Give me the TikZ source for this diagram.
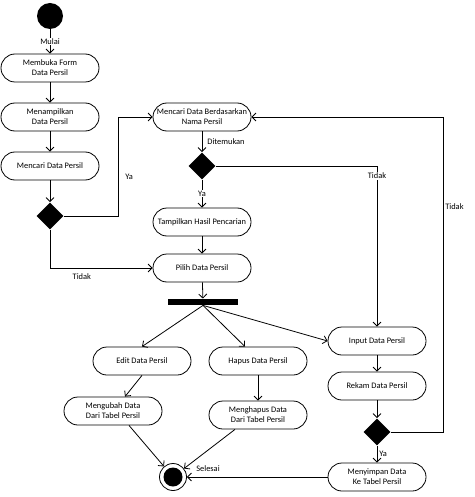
\documentclass[tikz,border=0pt]{standalone}
\usepackage{fontspec}
\setmainfont{Carlito}
\usetikzlibrary{arrows.meta,graphs,shapes.geometric}

\begin{document}
\begin{tikzpicture}[x=1pt,y=-1pt,line width=0.8pt,
    >={Straight Barb[length=4pt,width=8pt]}]
  \tikzset{act/.append style={draw, rounded corners=14pt, minimum width=98pt,
      minimum height=28pt, align=center, inner sep=1pt,
      font=\fontsize{8.4}{10}\selectfont},
    dec/.append style={diamond, fill=black, inner sep=0, minimum width=27pt,
      minimum height=27pt},
    lbl/.append style={font=\fontsize{8.4}{10}\selectfont, inner sep=1pt}}
  \useasboundingbox (0,0) rectangle (474,497);

  \node[circle, fill=black, minimum size=26pt, inner sep=0] (start) at (50,16) {};
  \node[act] (1) at (50,68) {Membuka Form\\Data Persil};
  \node[act] (2) at (50,117) {Menampilkan\\Data Persil};
  \node[act] (3) at (50,166) {Mencari Data Persil};
  \node[dec] (d1) at (50,216) {};

  \node[act] (4) at (202,117) {Mencari Data Berdasarkan\\Nama Persil};
  \node[dec] (d2) at (202,166) {};
  \node[act] (5) at (202,222) {Tampilkan Hasil Pencarian};
  \node[act] (6) at (202,268) {Pilih Data Persil};
  \node[fill=black, minimum width=70pt, minimum height=6pt, inner sep=0] (fork) at (203,302) {};

  \node[act] (7) at (142,361) {Edit Data Persil};
  \node[act] (8) at (258,361) {Hapus Data Persil};
  \node[act] (9) at (377,341) {Input Data Persil};
  \node[act] (10) at (377,386) {Rekam Data Persil};
  \node[dec] (d3) at (377,432) {};
  \node[act] (11) at (113,411) {Mengubah Data\\Dari Tabel Persil};
  \node[act] (12) at (258,415) {Menghapus Data\\Dari Tabel Persil};
  \node[act] (13) at (377,477) {Menyimpan Data\\Ke Tabel Persil};
  \node[circle, draw, minimum size=27pt, inner sep=0,
    path picture={\fill (path picture bounding box.center) circle (9.5pt);}] (end) at (173,477) {};

  \graph[use existing nodes] {
    1 -> 2 -> 3 -> d1;
    5 -> 6 -> fork;
    8 -> 12;
    9 -> 10 -> d3;
  };

  \draw[->] (start) -- node[lbl, fill=white] {Mulai} (1);
  \draw[->] (d1.east) -- ++(54,0) |- node[lbl, pos=0.2, right=6pt] {Ya} (4.west);
  \draw[->] (d1.south) |- node[lbl, pos=0.655, below=4pt] {Tidak} (6.west);
  \draw[->] (4) -- node[lbl, right=4pt] {Ditemukan} (d2);
  \draw[->] (d2) -- node[lbl, fill=white] {Ya} (5);
  \draw[->] (d2.east) -| node[lbl, pos=0.53, fill=white] {Tidak} (9.north);

  \draw[->] (fork.south) -- (7.north);
  \draw[->] (fork.south) -- ([xshift=-13pt]8.north);
  \draw[->] (fork.south) -- (9.west);
  \draw[->] (7.south) -- ([xshift=12pt]11.north);

  \draw[->] (d3.east) -- ++(52,0) |- node[lbl, pos=0.357, right=1pt] {Tidak} (4.east);
  \draw[->] (d3) -- node[lbl, right=1pt] {Ya} (13);

  \draw[->] ([xshift=16pt]11.south) -- (end);
  \draw[->] ([xshift=-23pt]12.south) -- (end);
  \draw[->] (13.west) -- node[lbl, pos=0.85, above=4pt] {Selesai} (end.east);
\end{tikzpicture}
\end{document}
